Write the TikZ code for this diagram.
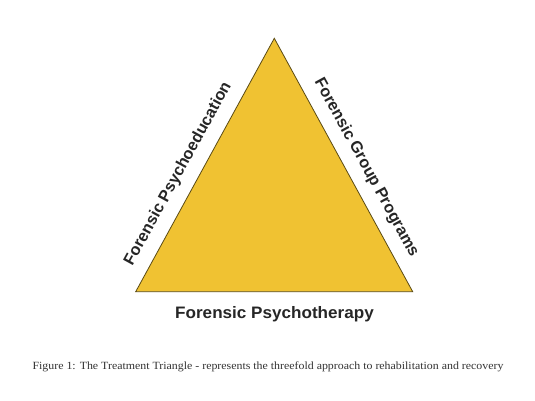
\documentclass[tikz,border=0pt]{standalone}
\usepackage{fontspec}
\setmainfont{Liberation Sans}
\newfontfamily\capfont{Liberation Serif}
\definecolor{triyellow}{HTML}{F0C232}
\definecolor{triedge}{HTML}{5A4A14}
\begin{document}
\begin{tikzpicture}[x=1pt,y=1pt,
  sidelabel/.style={font=\fontsize{16.2}{19}\selectfont\bfseries, inner sep=0pt, text=black!85},
  baselabel/.style={font=\fontsize{16.6}{19}\selectfont\bfseries, inner sep=0pt, text=black!85, xscale=1.03},
  caption/.style={font=\capfont\fontsize{11}{13}\selectfont, inner sep=0pt, text=black!80, xscale=1.08}]
\useasboundingbox (0,0) rectangle (535,-401);
\fill[white] (0,0) rectangle (535,-401);
\coordinate (A) at (274.3,-38.3);
\coordinate (B) at (135.7,-291.7);
\coordinate (C) at (412.7,-291.7);
\filldraw[fill=triyellow, draw=triedge, line width=0.8pt, line join=miter] (A) -- (B) -- (C) -- cycle;
\node[sidelabel, rotate=61.3] (left) at (178.3,-173.8) {Forensic Psychoeducation};
\node[sidelabel, rotate=-61.3] (right) at (366.3,-167.8) {Forensic Group Programs};
\node[baselabel, anchor=base] (bottom) at (274.5,-318.3) {Forensic Psychotherapy};
\node[caption, anchor=base] (cap) at (268,-369.3) {Figure 1: The Treatment Triangle - represents the threefold approach to rehabilitation and recovery};
\end{tikzpicture}
\end{document}
